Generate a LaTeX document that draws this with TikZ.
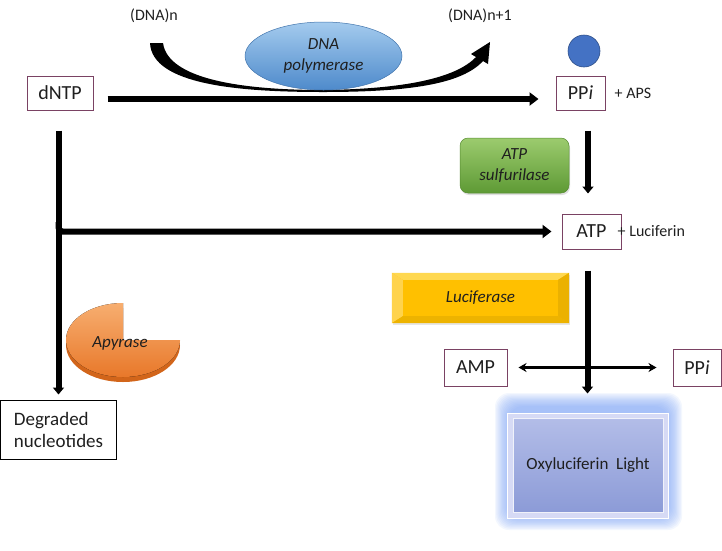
\documentclass[tikz,border=0pt]{standalone}
\usepackage{fontspec}
\setmainfont{Carlito}
\usetikzlibrary{arrows.meta, positioning, calc, shapes.geometric, shadows}

\begin{document}
\begin{tikzpicture}[
    x=1pt, y=-1pt,
    every node/.style={font=\fontsize{16}{19}\selectfont, text=black!88},
    species/.style={draw=boxcol, line width=1pt, inner sep=0pt,
        font=\fontsize{20}{23}\selectfont},
    enzyme/.style={font=\fontsize{17}{21}\selectfont\itshape, align=center,
        inner sep=0pt},
    sidelabel/.style={inner sep=0pt},
    bigarrow/.style={line width=6pt, -{Triangle[length=9pt, width=13pt]}},
    stemarrow/.style={line width=6pt, -{Triangle[length=7pt, width=11pt]}},
    splitarrow/.style={line width=2.5pt,
        {Stealth[length=8pt, width=9pt]}-{Stealth[length=8pt, width=9pt]}},
]

\definecolor{boxcol}{HTML}{7A4263}   % frame of the species boxes
\definecolor{polyA}{HTML}{A4CBEE}    % DNA polymerase, top and bottom
\definecolor{polyB}{HTML}{4E8ACB}
\definecolor{sulfA}{HTML}{9CCB6E}    % ATP sulfurilase
\definecolor{sulfB}{HTML}{5E9A35}
\definecolor{lucA}{HTML}{FFC000}     % luciferase and its bevel
\definecolor{lucTop}{HTML}{FFD850}
\definecolor{lucBot}{HTML}{EDB300}
\definecolor{apyA}{HTML}{F7AE70}     % apyrase
\definecolor{apyB}{HTML}{E8782A}
\definecolor{apySide}{HTML}{D2651A}
\definecolor{dotcol}{HTML}{4472C4}
\definecolor{glowcol}{HTML}{7EA4F4}
\definecolor{panelA}{HTML}{B3BDE8}
\definecolor{panelB}{HTML}{8C9BD7}

\useasboundingbox (0,0) rectangle (722,550);

% ---------------------------------------------------------------- species
\node[species, minimum width=66pt, minimum height=34pt] (dntp) at (60,93) {dNTP};
\node[species, minimum width=49pt, minimum height=34pt] (ppi) at (580.5,93)
    {PP\textit{i}};
\node[species, minimum width=59pt, minimum height=35pt] (atp) at (591.5,231.5) {ATP};
\node[species, minimum width=63pt, minimum height=37pt] (amp) at (475.5,367.5) {AMP};
\node[species, minimum width=48pt, minimum height=37pt] (ppiout) at (697,367.5)
    {PP\textit{i}};
\node[species, draw=black, minimum width=116pt, minimum height=59pt, align=left,
    font=\fontsize{19}{22}\selectfont]
    (degraded) at (58.5,429.5) {Degraded\\nucleotides};

\node[sidelabel, right=9pt of ppi] (aps) {+ APS};
\node[sidelabel, right=-4pt of atp] (lucin) {+ Luciferin};
\node (dnan) at (154,16) {(DNA)n};
\node (dnanext) at (480,16) {(DNA)n+1};
\node[circle, fill=dotcol, draw=dotcol!70!black, line width=0.6pt,
    minimum size=32pt, inner sep=0pt] (ppidot) at (584,51) {};

% ---------------------------------------------------------------- strand growth
% one tapering stroke, thin where it runs under the polymerase
\fill[black] (150,43) .. controls (152,85) and (240,92) .. (323,92)
    .. controls (410,92) and (462,84) .. (483,61)
    -- (488,64) -- (490,42) -- (471,54) -- (476,57)
    .. controls (456,78) and (405,89) .. (323,90)
    .. controls (245,90) and (168,80) .. (163,43) -- cycle;

% ---------------------------------------------------------------- enzymes
\node[enzyme, ellipse, minimum width=157pt, minimum height=68pt,
    top color=polyA, bottom color=polyB, draw=polyB!85!black, line width=0.5pt]
    (dnapol) at (323.5,56) {DNA\\polymerase};

\node[enzyme, rounded corners=8pt, minimum width=109pt, minimum height=55pt,
    top color=sulfA, bottom color=sulfB, draw=sulfB!90!black, line width=0.5pt,
    drop shadow={opacity=0.25, shadow xshift=1pt, shadow yshift=-2pt}]
    (sulf) at (514.5,165.5) {ATP\\sulfurilase};

\node[enzyme, minimum width=177pt, minimum height=50pt, fill=lucA,
    drop shadow={opacity=0.2, shadow xshift=1pt, shadow yshift=-2pt}]
    (lucif) at (480.5,298) {};
\fill[lucTop] (lucif.north west) -- (lucif.north east)
    -- ($(lucif.north east)+(-11,7)$) -- ($(lucif.north west)+(11,7)$) -- cycle;
\fill[lucA!70!white] (lucif.north west) -- ($(lucif.north west)+(11,7)$)
    -- ($(lucif.south west)+(11,-7)$) -- (lucif.south west) -- cycle;
\fill[lucBot] (lucif.south west) -- ($(lucif.south west)+(11,-7)$)
    -- ($(lucif.south east)+(-11,-7)$) -- (lucif.south east) -- cycle;
\fill[lucA!92!black] (lucif.north east) -- ($(lucif.north east)+(-11,7)$)
    -- ($(lucif.south east)+(-11,-7)$) -- (lucif.south east) -- cycle;
\node[enzyme] (lucname) at (lucif) {Luciferase};

% pie with a quarter bitten out
\fill[apySide] (123,345) -- (180,345)
    arc[start angle=0, end angle=270, x radius=57, y radius=37] -- cycle;
\fill[top color=apyA, bottom color=apyB] (123,340) -- (180,340)
    arc[start angle=0, end angle=270, x radius=57, y radius=37] -- cycle;
\node[enzyme] (apyrase) at (120,343) {Apyrase};

% ---------------------------------------------------------------- light
\foreach \k in {0,...,11} {
    \fill[glowcol, opacity=0.09, rounded corners=14pt]
        (495+\k*1.2, 393+\k*1.2) rectangle (682-\k*1.2, 530-\k*1.2);
}
\node[minimum width=161pt, minimum height=105pt, inner sep=0pt,
    fill=blue!8!panelA!45!white, draw=white, line width=1pt]
    (oxyframe) at (587.5,465.5) {};
\node[minimum width=150pt, minimum height=94pt, inner sep=0pt,
    top color=panelA, bottom color=panelB, draw=white!80!panelA, line width=0.8pt,
    font=\fontsize{17}{20}\selectfont]
    (oxy) at (588,465) {Oxyluciferin\ \ Light};

% ---------------------------------------------------------------- reactions
\draw[bigarrow, shorten <=14pt, shorten >=17pt]
    ([yshift=-6pt]dntp.east) -- ([yshift=-6pt]ppi.west);

\draw[stemarrow, shorten <=20pt, shorten >=5pt]
    (degraded.north |- dntp.south) -- (degraded.north);
\coordinate (fork) at (degraded.north |- 0,222);
\draw[bigarrow, rounded corners=4pt, shorten >=10pt] (fork) |- (atp.west);

\draw[stemarrow, shorten <=20pt, shorten >=20pt]
    ([xshift=-3.5pt]atp.north |- ppi.south) -- ([xshift=-3.5pt]atp.north);
\draw[stemarrow, shorten <=21pt, shorten >=19pt]
    (oxyframe.north |- atp.south) -- (oxyframe.north);

\draw[splitarrow, shorten <=11pt, shorten >=16pt] (amp.east) -- (ppiout.west);

\end{tikzpicture}
\end{document}
